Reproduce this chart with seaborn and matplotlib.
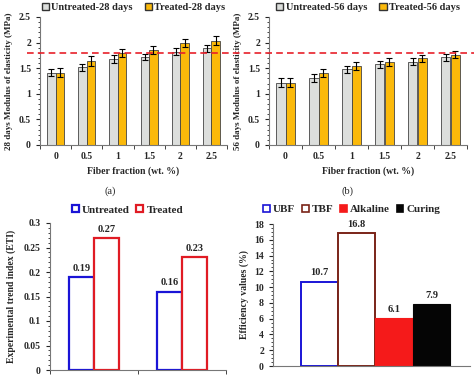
import numpy as np
import pandas as pd
import matplotlib
matplotlib.use("Agg")
import matplotlib.pyplot as plt
import seaborn as sns
from matplotlib.lines import Line2D
from matplotlib.patches import Patch

# --- data ---
fractions = ["0", "0.5", "1", "1.5", "2", "2.5"]
untreated_28 = [1.41, 1.52, 1.68, 1.72, 1.82, 1.89]
treated_28 = [1.41, 1.64, 1.80, 1.86, 1.99, 2.04]
err_u28 = [0.07, 0.07, 0.07, 0.06, 0.07, 0.07]
err_t28 = [0.09, 0.09, 0.08, 0.08, 0.08, 0.09]
untreated_56 = [1.22, 1.31, 1.48, 1.58, 1.63, 1.71]
treated_56 = [1.22, 1.41, 1.55, 1.62, 1.69, 1.76]
err_u56 = [0.08, 0.07, 0.07, 0.07, 0.07, 0.07]
err_t56 = [0.08, 0.08, 0.08, 0.07, 0.07, 0.07]
target = 1.8

eti_groups = ["28 days", "56 days"]
eti_untreated = [0.19, 0.16]
eti_treated = [0.27, 0.23]

eff_names = ["UBF", "TBF", "Alkaline", "Curing"]
eff_values = [10.7, 16.8, 6.1, 7.9]

sns.set_style("ticks")
plt.rcParams["font.family"] = ["Liberation Serif", "DejaVu Serif"]
plt.rcParams["font.weight"] = "bold"

W, H = 474, 379
fig = plt.figure(figsize=(W / 100, H / 100), dpi=100)


def px_axes(x0, y0, x1, y1):
    return fig.add_axes([x0 / W, 1 - y1 / H, (x1 - x0) / W, (y1 - y0) / H])


grey = "#dcdedc"
gold = "#fbb90a"


def modulus_panel(ax, unt, trt, eu, et, days):
    df = pd.DataFrame({
        "frac": fractions * 2,
        "val": unt + trt,
        "grp": [f"Untreated-{days} days"] * 6 + [f"Treated-{days} days"] * 6,
    })
    sns.barplot(data=df, x="frac", y="val", hue="grp", ax=ax, order=fractions,
                palette=[grey, gold], saturation=1, width=0.55, errorbar=None,
                edgecolor="#444444", linewidth=0.6, legend=False)
    for cont, err in zip(ax.containers, [eu, et]):
        xs = [b.get_x() + b.get_width() / 2 for b in cont]
        hs = [b.get_height() for b in cont]
        ax.errorbar(xs, hs, yerr=err, fmt="none", ecolor="black",
                    elinewidth=0.8, capsize=2, capthick=0.8)
    ax.set_ylim(0, 2.5)
    ax.set_yticks([0, 0.5, 1, 1.5, 2, 2.5])
    ax.set_yticklabels(["0", "0.5", "1", "1.5", "2", "2.5"])
    ax.yaxis.set_minor_locator(matplotlib.ticker.MultipleLocator(0.1))
    ax.set_xlim(-0.5, 5.5)
    ax.set_xticks(np.arange(-0.5, 6, 1), minor=True)
    ax.tick_params(axis="x", which="major", length=0, labelsize=7, pad=5)
    ax.tick_params(axis="x", which="minor", length=3, direction="out")
    ax.tick_params(axis="y", which="major", labelsize=7, length=3)
    ax.tick_params(axis="y", which="minor", length=1.5)
    for s in ["top", "right"]:
        ax.spines[s].set_visible(False)
    ax.spines["left"].set_color("#777777")
    ax.spines["bottom"].set_color("#777777")
    ax.set_xlabel("Fiber fraction (wt. %)", fontsize=7, fontweight="bold", labelpad=4)
    ax.set_ylabel(f"{days} days Modulus of elasticity (MPa)", fontsize=6.5,
                  fontweight="bold", labelpad=4)
    handles = [Patch(facecolor=grey, edgecolor="#333333", label=f"Untreated-{days} days"),
               Patch(facecolor=gold, edgecolor="#333333", label=f"Treated-{days} days")]
    ax.legend(handles=handles, loc="lower center", bbox_to_anchor=(0.5, 1.0),
              ncol=2, frameon=False, fontsize=7.5, handlelength=0.7,
              handleheight=0.7, handletextpad=0.2, columnspacing=1.2,
              borderaxespad=0.05)


ax_a = px_axes(40, 17, 227, 145)
modulus_panel(ax_a, untreated_28, treated_28, err_u28, err_t28, 28)
ax_b = px_axes(269, 17, 467, 145)
modulus_panel(ax_b, untreated_56, treated_56, err_u56, err_t56, 56)

# red dashed reference line across both panels
y_line = ax_a.transData.transform((0, target))[1] / (H)
fig.add_artist(Line2D([27 / W, 1.0], [y_line, y_line], color="#e8202a",
                      linestyle=(0, (4, 2.5)), linewidth=1.2,
                      transform=fig.transFigure))

fig.text(110 / W, 1 - 191 / H, "(a)", fontsize=7.5, ha="center", va="center",
         fontweight="normal")
fig.text(347 / W, 1 - 191 / H, "(b)", fontsize=7.5, ha="center", va="center",
         fontweight="normal")

# --- ETI panel ---
ax_c = px_axes(50, 223, 226, 370)
eti_df = pd.DataFrame({
    "grp": eti_groups * 2,
    "val": eti_untreated + eti_treated,
    "kind": ["Untreated"] * 2 + ["Treated"] * 2,
})
sns.barplot(data=eti_df, x="grp", y="val", hue="kind", ax=ax_c, width=0.57,
            errorbar=None, legend=False, palette=["white", "white"], saturation=1)
for cont, col in zip(ax_c.containers, ["#1a14d6", "#e01b24"]):
    for b in cont:
        b.set_edgecolor(col)
        b.set_linewidth(1.6)
    ax_c.bar_label(cont, labels=[f"{v:.2f}" for v in cont.datavalues],
                   padding=3, fontsize=7.5, fontweight="bold")
ax_c.set_ylim(0, 0.3)
ax_c.set_yticks(np.arange(0, 0.31, 0.05))
ax_c.set_yticklabels(["0", "0.05", "0.1", "0.15", "0.2", "0.25", "0.3"])
ax_c.yaxis.set_minor_locator(matplotlib.ticker.MultipleLocator(0.01))
ax_c.set_xlim(-0.5, 1.5)
ax_c.set_xticks([])
ax_c.set_xticks([-0.5, 0.5, 1.5], minor=True)
ax_c.tick_params(axis="x", which="minor", length=3)
ax_c.tick_params(axis="y", which="major", labelsize=7, length=3)
ax_c.tick_params(axis="y", which="minor", length=1.5)
for s in ["top", "right"]:
    ax_c.spines[s].set_visible(False)
ax_c.spines["left"].set_color("#777777")
ax_c.spines["bottom"].set_color("#777777")
ax_c.set_xlabel("")
ax_c.set_ylabel("Experimental trend index (ETI)", fontsize=7, fontweight="bold", labelpad=6)
ax_c.legend(handles=[Patch(facecolor="white", edgecolor="#1a14d6", linewidth=1.6, label="Untreated"),
                     Patch(facecolor="white", edgecolor="#e01b24", linewidth=1.6, label="Treated")],
            loc="lower center", bbox_to_anchor=(0.44, 1.02), ncol=2, frameon=False,
            fontsize=8, handlelength=0.6, handleheight=0.6, handletextpad=0.3,
            columnspacing=0.6, borderaxespad=0.1)

# --- Efficiency panel ---
ax_d = px_axes(273, 224, 470, 366)
eff_df = pd.DataFrame({"grp": ["all"] * 4, "val": eff_values, "name": eff_names})
face = ["white", "white", "#f51a1a", "#050505"]
edge = ["#1a14d6", "#7a2418", "#f51a1a", "#050505"]
sns.barplot(data=eff_df, x="grp", y="val", hue="name", ax=ax_d, width=0.76,
            errorbar=None, legend=False, palette=face, saturation=1)
for cont, ec in zip(ax_d.containers, edge):
    for b in cont:
        b.set_edgecolor(ec)
        b.set_linewidth(1.4 if ec in ("#1a14d6", "#7a2418") else 0.8)
    ax_d.bar_label(cont, labels=[f"{v:.1f}" for v in cont.datavalues],
                   padding=3, fontsize=7.5, fontweight="bold")
ax_d.set_ylim(0, 18)
ax_d.set_yticks(np.arange(0, 19, 2))
ax_d.yaxis.set_minor_locator(matplotlib.ticker.MultipleLocator(0.5))
ax_d.set_xlim(-0.52, 0.48)
ax_d.set_xticks([])
ax_d.tick_params(axis="y", which="major", labelsize=7, length=3)
ax_d.tick_params(axis="y", which="minor", length=1.5)
for s in ["top", "right"]:
    ax_d.spines[s].set_visible(False)
ax_d.spines["left"].set_color("#777777")
ax_d.spines["bottom"].set_color("#777777")
ax_d.set_xlabel("")
ax_d.set_ylabel("Efficiency values (%)", fontsize=7, fontweight="bold", labelpad=4)
ax_d.legend(handles=[Patch(facecolor=f, edgecolor=e, linewidth=1.2, label=n)
                     for f, e, n in zip(face, edge, eff_names)],
            loc="lower center", bbox_to_anchor=(0.4, 1.03), ncol=4, frameon=False,
            fontsize=8, handlelength=0.6, handleheight=0.6, handletextpad=0.3,
            columnspacing=0.6, borderaxespad=0.1)

fig.savefig("out.png", dpi=100)
